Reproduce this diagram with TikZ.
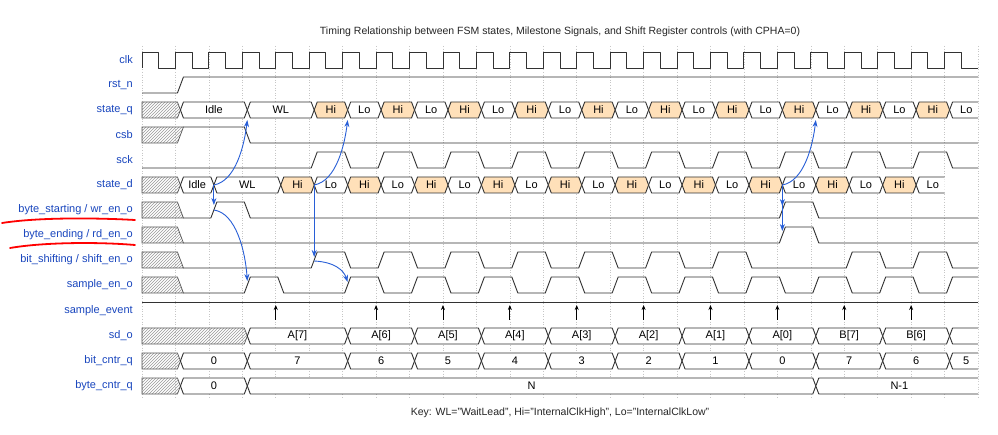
\documentclass[tikz,border=0pt]{standalone}
\usepackage{fontspec}
\setmainfont{Liberation Sans}
\usetikzlibrary{patterns,arrows.meta}
\definecolor{lblue}{RGB}{25,70,190}
\definecolor{abl}{RGB}{40,95,215}
\definecolor{hiC}{RGB}{255,224,185}
\definecolor{wl}{RGB}{50,50,50}
\tikzset{
 sig/.style={draw=wl,line width=0.9pt,line join=round},
 hatchc/.style={pattern=north east lines,pattern color=gray!80,draw=gray!70!black,line width=0.7pt},
 lbl/.style={anchor=east,text=lblue,font=\fontsize{11}{13}\selectfont,inner sep=0pt},
 btxt/.style={font=\fontsize{11}{13}\selectfont,inner sep=0pt,text=black},
 bl/.style={draw=abl,line width=0.9pt,-{Stealth[length=7pt,width=5pt]}},
 grid/.style={draw=gray!45,dotted,line width=0.6pt}
}
\newcommand\bus[6]{%
 \path[sig,fill=#6] ({tx(#3)+5},#2) -- ({tx(#3)+8},{#2-8}) -- ({tx(#4)+2},{#2-8}) -- ({tx(#4)+5},#2) -- ({tx(#4)+2},{#2+8}) -- ({tx(#3)+8},{#2+8}) -- cycle;
 \node[btxt] (#1) at ({(tx(#3)+tx(#4))/2+5},#2) {#5};}
\newcommand\busopen[6]{%
 \fill[#6] ({tx(#3)+5},#2) -- ({tx(#3)+8},{#2-8}) -- ({tx(#4)},{#2-8}) -- ({tx(#4)},{#2+8}) -- ({tx(#3)+8},{#2+8}) -- cycle;
 \draw[sig] ({tx(#4)},{#2-8}) -- ({tx(#3)+8},{#2-8}) -- ({tx(#3)+5},#2) -- ({tx(#3)+8},{#2+8}) -- ({tx(#4)},{#2+8});
 \node[btxt] (#1) at ({(tx(#3)+tx(#4))/2+5},#2) {#5};}
\newcommand\hatchbus[2]{\path[hatchc] (142,{#1-8}) -- ({tx(#2)+2},{#1-8}) -- ({tx(#2)+5},#1) -- ({tx(#2)+2},{#1+8}) -- (142,{#1+8}) -- cycle;}
\newcommand\hatchlo[1]{\path[hatchc] (142,{#1-8}) -- ({tx(1)+2},{#1-8}) -- ({tx(1)+8},{#1+8}) -- (142,{#1+8}) -- cycle;}
\newcommand\hatchhi[1]{\path[hatchc] (142,{#1-8}) -- ({tx(1)+8},{#1-8}) -- ({tx(1)+2},{#1+8}) -- (142,{#1+8}) -- cycle;}
\begin{document}
\begin{tikzpicture}[x=1pt,y=-1pt,declare function={tx(\k)=142+33.44*\k;}]
\useasboundingbox (0,0) rectangle (998,435);
\fill[white] (0,0) rectangle (998,435);
\node[font=\fontsize{10.5}{12}\selectfont,text=black!85] (title) at (560,32) {Timing Relationship between FSM states, Milestone Signals, and Shift Register controls (with CPHA=0)};
\node[font=\fontsize{10.5}{12}\selectfont,text=black!85] (key) at (560,413) {Key: WL="WaitLead", Hi="InternalClkHigh", Lo="InternalClkLow"};
% grid
\foreach \k in {0,...,25} \draw[grid] ({tx(\k)},46) -- ({tx(\k)},398);
% labels
\foreach \n/\y/\t in {a/60/{clk},b/85/{rst\_n},c/110/{state\_q},d/135/{csb},e/160/{sck},f/185/{state\_d},g/210/{byte\_starting \slash{} wr\_en\_o},h/235/{byte\_ending \slash{} rd\_en\_o},i/260/{bit\_shifting \slash{} shift\_en\_o},j/285/{sample\_en\_o},k/311/{sample\_event},l/336/{sd\_o},m/361/{bit\_cntr\_q},n/386/{byte\_cntr\_q}}
  \node[lbl] (lab\n) at (133,\y) {\t};
% clk
\draw[sig] (142,68) foreach \k in {0,...,24} { -- ({tx(\k)},68) -- ({tx(\k)},52) -- ({tx(\k+0.5)},52) -- ({tx(\k+0.5)},68) } -- ({tx(25)},68);
% rst_n
\draw[sig] (142,93) -- ({tx(1)+2},93) -- ({tx(1)+8},77) -- ({tx(25)},77);
% state_q
\hatchbus{110}{1}
\bus{sqI}{110}{1}{3}{Idle}{white}
\bus{sqW}{110}{3}{5}{WL}{white}
\foreach \k in {5,7,...,23} {\bus{sqH\k}{110}{\k}{\k+1}{Hi}{hiC}}
\foreach \k in {6,8,...,22} {\bus{sqL\k}{110}{\k}{\k+1}{Lo}{white}}
\busopen{sqL24}{110}{24}{25}{Lo}{white}
% csb
\hatchhi{135}
\draw[sig] ({tx(1)+8},127) -- ({tx(3)+2},127) -- ({tx(3)+8},143) -- ({tx(25)},143);
% sck
\draw[sig] (142,168) foreach \a in {5,7,...,23} { -- ({tx(\a)+2},168) -- ({tx(\a)+8},152) -- ({tx(\a+1)+2},152) -- ({tx(\a+1)+8},168) } -- ({tx(25)},168);
% state_d
\hatchbus{185}{1}
\bus{sdI}{185}{1}{2}{Idle}{white}
\bus{sdW}{185}{2}{4}{WL}{white}
\foreach \k in {4,6,...,22} {\bus{sdH\k}{185}{\k}{\k+1}{Hi}{hiC}}
\foreach \k in {5,7,...,21} {\bus{sdL\k}{185}{\k}{\k+1}{Lo}{white}}
\busopen{sdL23}{185}{23}{24}{Lo}{white}
% byte_starting
\hatchlo{210}
\draw[sig] ({tx(1)+8},218) foreach \a in {2,19} { -- ({tx(\a)+2},218) -- ({tx(\a)+8},202) -- ({tx(\a+1)+2},202) -- ({tx(\a+1)+8},218) } -- ({tx(25)},218);
% byte_ending
\hatchlo{235}
\draw[sig] ({tx(1)+8},243) foreach \a in {19} { -- ({tx(\a)+2},243) -- ({tx(\a)+8},227) -- ({tx(\a+1)+2},227) -- ({tx(\a+1)+8},243) } -- ({tx(25)},243);
% bit_shifting
\hatchlo{260}
\draw[sig] ({tx(1)+8},268) foreach \a in {5,7,9,11,13,15,17,21,23} { -- ({tx(\a)+2},268) -- ({tx(\a)+8},252) -- ({tx(\a+1)+2},252) -- ({tx(\a+1)+8},268) } -- ({tx(25)},268);
% sample_en_o
\hatchlo{285}
\draw[sig] ({tx(1)+8},293) foreach \a in {3,6,8,...,22} { -- ({tx(\a)+2},293) -- ({tx(\a)+8},277) -- ({tx(\a+1)+2},277) -- ({tx(\a+1)+8},293) } -- ({tx(24)+2},293) -- ({tx(24)+8},277) -- ({tx(25)},277);
% sample_event
\draw[sig] (142,302) -- ({tx(25)},302);
\foreach \k in {4,7,9,11,13,15,17,19,21,23} {
  \coordinate (se0\k) at ({tx(\k)},320); \coordinate (se1\k) at ({tx(\k)},305);
  \draw[black,line width=0.8pt,-{Stealth[length=5pt,width=4pt]}] (se0\k) -- (se1\k);}
% sd_o
\hatchbus{336}{3}
\bus{sd7}{336}{3}{6}{A[7]}{white}
\foreach \k/\v in {6/6,8/5,10/4,12/3,14/2,16/1,18/0} {\bus{sdA\v}{336}{\k}{\k+2}{A[\v]}{white}}
\bus{sdB7}{336}{20}{22}{B[7]}{white}
\bus{sdB6}{336}{22}{24}{B[6]}{white}
\busopen{sdE}{336}{24}{25}{}{white}
% bit_cntr_q
\hatchbus{361}{1}
\bus{bc0}{361}{1}{3}{0}{white}
\bus{bc7}{361}{3}{6}{7}{white}
\foreach \k/\v in {6/6,8/5,10/4,12/3,14/2,16/1,18/0,20/7,22/6} {\bus{bcv\k}{361}{\k}{\k+2}{\v}{white}}
\busopen{bc5}{361}{24}{25}{5}{white}
% byte_cntr_q
\hatchbus{386}{1}
\bus{by0}{386}{1}{3}{0}{white}
\bus{byN}{386}{3}{20}{N}{white}
\busopen{byN1}{386}{20}{25}{N-1}{white}
% blue arrows
\coordinate (p1) at ({tx(2)+5},185); \coordinate (q1) at ({tx(3)+5},120);
\coordinate (p2) at ({tx(5)+5},185); \coordinate (q2) at ({tx(6)+5},120);
\coordinate (p3) at ({tx(19)+5},185); \coordinate (q3) at ({tx(20)+5},120);
\draw[bl] (p1) .. controls +(22,-4) and +(-3,25) .. (q1);
\draw[bl] (p2) .. controls +(22,-4) and +(-3,25) .. (q2);
\draw[bl] (p3) .. controls +(22,-4) and +(-3,25) .. (q3);
\coordinate (d1) at ({tx(2)+5},205); \coordinate (e1) at ({tx(2)+5},210); \coordinate (f1) at ({tx(3)+5},281);
\draw[bl] (p1) -- (d1);
\draw[bl] (e1) .. controls +(22,3) and +(-2,-30) .. (f1);
\coordinate (d2) at ({tx(5)+5},257); \coordinate (e2) at ({tx(5)+5},261); \coordinate (f2) at ({tx(6)+5},282);
\draw[bl] (p2) -- (d2);
\draw[bl] (e2) .. controls +(20,1) and +(-4,-12) .. (f2);
\coordinate (d3) at ({tx(19)+5},206); \coordinate (d4) at ({tx(19)+5},231);
\draw[bl] (p3) -- (d3);
\draw[bl] (p3) -- (d4);
% red underlines
\coordinate (r1) at (2,223); \coordinate (r2) at (135,220);
\coordinate (r3) at (10,248); \coordinate (r4) at (135,245);
\draw[red,line width=1.8pt,line cap=round] (r1) .. controls (40,217) and (100,218) .. (r2);
\draw[red,line width=1.8pt,line cap=round] (r3) .. controls (45,242) and (100,242) .. (r4);
\end{tikzpicture}
\end{document}
